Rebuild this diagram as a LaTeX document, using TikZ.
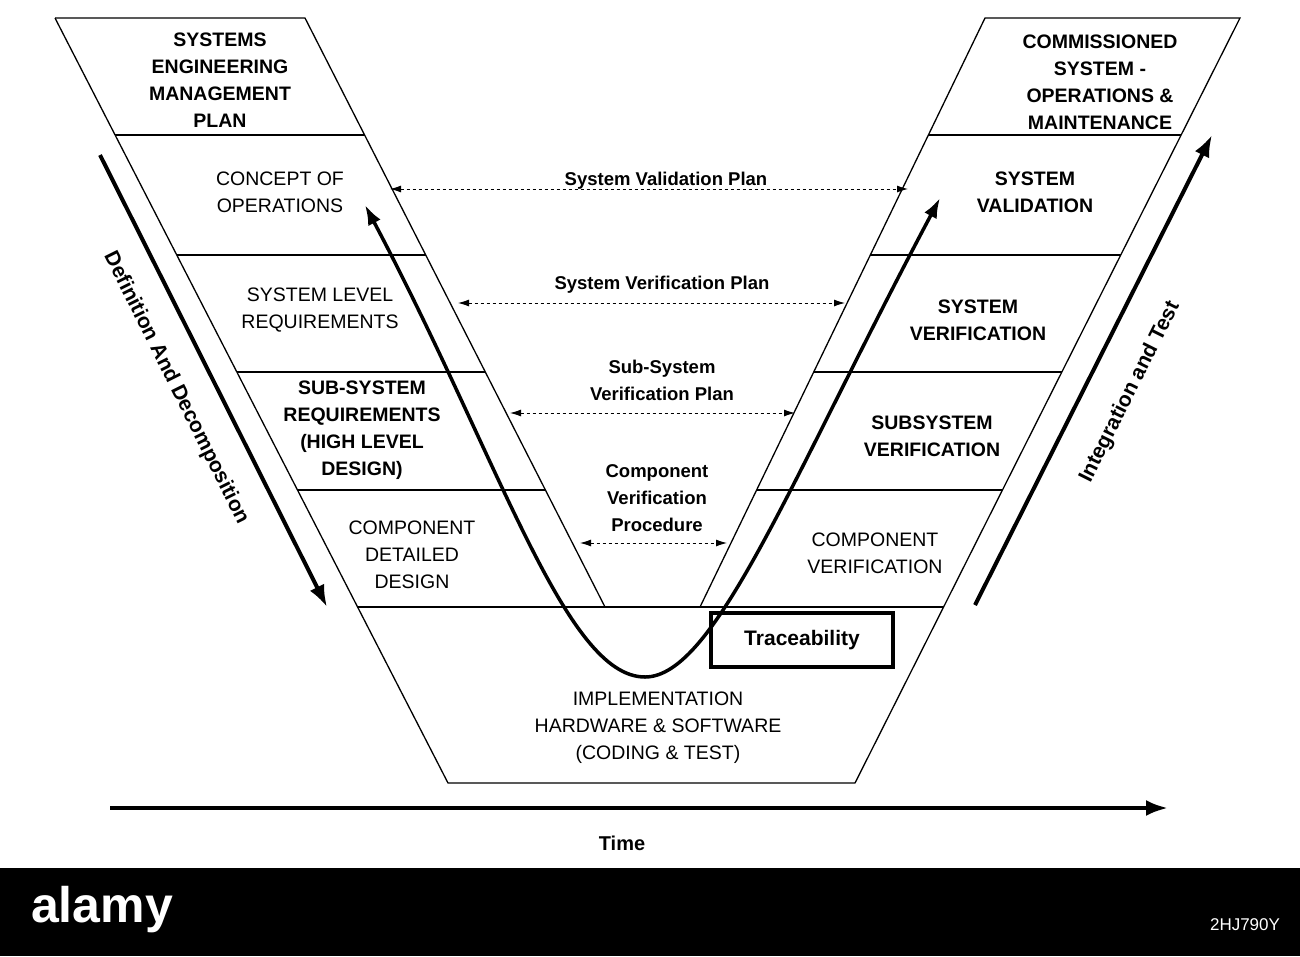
\documentclass[tikz,border=0pt]{standalone}
\usepackage{fontspec}
\setmainfont{Liberation Sans}
\usetikzlibrary{arrows.meta}
\begin{document}
\begin{tikzpicture}[x=1pt,y=-1pt,
  edge/.style={line width=1.3pt,line join=miter},
  lab/.style={align=center,font=\fontsize{19.5}{27}\selectfont},
  blab/.style={lab,font=\fontsize{19.5}{27}\selectfont\bfseries},
  plan/.style={align=center,font=\fontsize{18.5}{27}\selectfont\bfseries},
  darr/.style={dashed,line width=0.9pt,{Latex[length=11pt,width=7pt]}-{Latex[length=11pt,width=7pt]}},
  big/.style={line width=4pt,-{Latex[length=22pt,width=16pt]}}]
\useasboundingbox (0,0) rectangle (1300,956);
\fill[white] (0,0) rectangle (1300,868);
\draw[edge] (55,18) -- (305,18) -- (605,607);
\draw[edge] (55,18) -- (448,783) -- (855,783) -- (1240,18) -- (985,18) -- (700,607);
\draw[edge] (115.1,135) -- (364.6,135);
\draw[edge] (176.7,255) -- (425.7,255);
\draw[edge] (236.9,372) -- (485.3,372);
\draw[edge] (297.5,490) -- (545.4,490);
\draw[edge] (357.6,607) -- (943.6,607);
\draw[edge] (928.4,135) -- (1181.1,135);
\draw[edge] (870.3,255) -- (1120.7,255);
\draw[edge] (813.7,372) -- (1061.8,372);
\draw[edge] (756.6,490) -- (1002.4,490);
\node[blab] (semp) at (220,80) {SYSTEMS\\ENGINEERING\\MANAGEMENT\\PLAN};
\node[lab] (conops) at (280,192) {CONCEPT OF\\OPERATIONS};
\node[lab] (sysreq) at (320,310) {SYSTEM LEVEL\\REQUIREMENTS};
\node[blab] (subreq) at (362,430) {SUB-SYSTEM\\REQUIREMENTS\\(HIGH LEVEL\\DESIGN)};
\node[lab] (comp) at (412,555) {COMPONENT\\DETAILED\\DESIGN};
\node[lab] (impl) at (658,728) {IMPLEMENTATION\\HARDWARE \& SOFTWARE\\(CODING \& TEST)};
\node[blab] (comm) at (1100,82) {COMMISSIONED\\SYSTEM -\\OPERATIONS \&\\MAINTENANCE};
\node[blab] (sval) at (1035,192) {SYSTEM\\VALIDATION};
\node[blab] (sver) at (978,320) {SYSTEM\\VERIFICATION};
\node[blab] (subver) at (932,436) {SUBSYSTEM\\VERIFICATION};
\node[lab] (cver) at (875,553) {COMPONENT\\VERIFICATION};
\coordinate (a1) at (390,189); \coordinate (b1) at (908,189);
\draw[darr] (a1) -- (b1);
\node[plan] (p1) at (666,181) {System Validation Plan};
\coordinate (a2) at (458,303); \coordinate (b2) at (845,303);
\draw[darr] (a2) -- (b2);
\node[plan] (p2) at (662,285) {System Verification Plan};
\coordinate (a3) at (510,413); \coordinate (b3) at (795,413);
\draw[darr] (a3) -- (b3);
\node[plan] (p3) at (662,380) {Sub-System\\Verification Plan};
\coordinate (a4) at (580,543); \coordinate (b4) at (727,543);
\draw[darr] (a4) -- (b4);
\node[plan] (p4) at (657,498) {Component\\Verification\\Procedure};
\coordinate (cs) at (365,205); \coordinate (cm) at (645,677); \coordinate (ce) at (940,198);
\draw[line width=3.5pt,{Latex[length=20pt,width=14pt]}-{Latex[length=20pt,width=14pt]}]
  (cs) .. controls (500,460) and (565,677) .. (cm) .. controls (715,677) and (790,480) .. (ce);
\node[draw,line width=4pt,minimum width=182pt,minimum height=54pt,font=\fontsize{21}{24}\selectfont\bfseries] (trace) at (802,640) {Traceability};
\coordinate (l1) at (100,155); \coordinate (l2) at (327,607);
\draw[big] (l1) -- (l2);
\node[rotate=-63.5,font=\fontsize{21}{24}\selectfont\bfseries] (dd) at (176,388) {Definition And Decomposition};
\coordinate (r1) at (975,605); \coordinate (r2) at (1212,135);
\draw[big] (r1) -- (r2);
\node[rotate=63.4,font=\fontsize{21}{24}\selectfont\bfseries] (it) at (1130,392) {Integration and Test};
\coordinate (t1) at (110,808); \coordinate (t2) at (1168,808);
\draw[big] (t1) -- (t2);
\node[font=\fontsize{20}{24}\selectfont\bfseries] (time) at (622,843) {Time};
\fill[black] (0,868) rectangle (1300,956);
\node[white,font=\fontsize{50}{50}\selectfont\bfseries] (al) at (102,910) {alamy};
\node[white,font=\fontsize{17}{20}\selectfont] (id) at (1245,925) {2HJ790Y};
\end{tikzpicture}
\end{document}
